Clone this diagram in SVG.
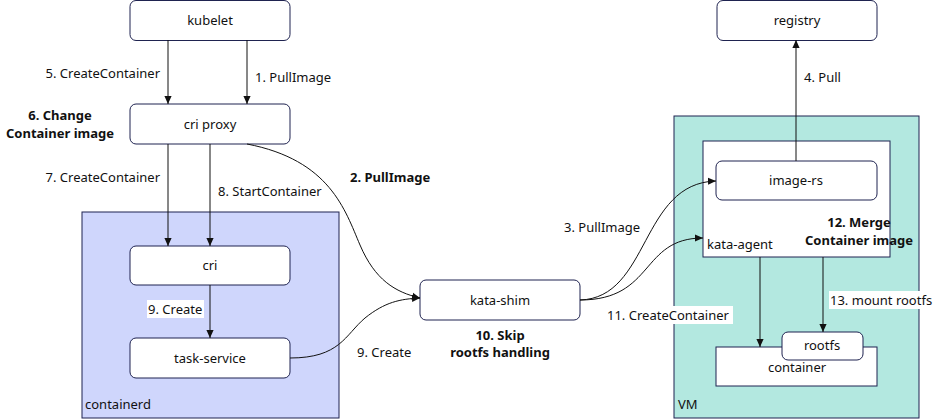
<svg xmlns="http://www.w3.org/2000/svg" width="940" height="420" viewBox="0 0 940 420">
<style>
text{font-family:"Noto Sans","Open Sans","DejaVu Sans",sans-serif;font-size:13px;fill:#111}
.b{font-weight:bold}
.c{text-anchor:middle}
.box{fill:#fff;stroke:#1f2350;stroke-width:1}
.ln{fill:none;stroke:#111;stroke-width:1}
.wb{fill:#fff}
</style>
<defs>
<marker id="ah" viewBox="0 0 10 10" refX="10" refY="5" markerWidth="8" markerHeight="8" markerUnits="userSpaceOnUse" orient="auto">
<path d="M0,0.5 L10,5 L0,9.5 Z" fill="#111"/>
</marker>
</defs>
<g id="containerd">
<rect x="82" y="212" width="257" height="206" fill="#cfd6fc" stroke="#1f2350"/>
<text x="85" y="409">containerd</text>
</g>
<g id="vm">
<rect x="674" y="116" width="245" height="302" fill="#b3e8e0" stroke="#1f2350"/>
<text x="678" y="409">VM</text>
</g>
<g id="kata-agent">
<rect x="703" y="141" width="187" height="116" class="box"/>
<text x="707" y="249">kata-agent</text>
</g>
<g id="kubelet">
<rect x="130" y="0.5" width="160" height="40" rx="6" class="box"/>
<text x="210" y="25" class="c">kubelet</text>
</g>
<g id="cri-proxy">
<rect x="130" y="104" width="160" height="40" rx="6" class="box"/>
<text x="210" y="129" class="c">cri proxy</text>
</g>
<g id="cri">
<rect x="130" y="246" width="160" height="39" rx="6" class="box"/>
<text x="210" y="270" class="c">cri</text>
</g>
<g id="task-service">
<rect x="130" y="338" width="160" height="40" rx="6" class="box"/>
<text x="210" y="363" class="c">task-service</text>
</g>
<g id="kata-shim">
<rect x="420" y="280" width="160" height="40" rx="6" class="box"/>
<text x="500" y="305" class="c">kata-shim</text>
</g>
<g id="registry">
<rect x="717" y="0.5" width="160" height="40" rx="6" class="box"/>
<text x="797" y="25" class="c">registry</text>
</g>
<g id="image-rs">
<rect x="716" y="161" width="161" height="39" rx="6" class="box"/>
<text x="796" y="185" class="c">image-rs</text>
</g>
<g id="container">
<rect x="716" y="347" width="161" height="39" class="box"/>
<text x="797" y="372" class="c">container</text>
</g>
<g id="rootfs">
<rect x="782" y="332" width="81" height="28" rx="6" class="box"/>
<text x="822" y="350" class="c">rootfs</text>
</g>
<g id="connectors">
<line x1="168" y1="40" x2="168" y2="104" class="ln" marker-end="url(#ah)"/>
<line x1="247" y1="40" x2="247" y2="104" class="ln" marker-end="url(#ah)"/>
<line x1="168" y1="144" x2="168" y2="246" class="ln" marker-end="url(#ah)"/>
<line x1="210" y1="144" x2="210" y2="246" class="ln" marker-end="url(#ah)"/>
<line x1="210" y1="285" x2="210" y2="338" class="ln" marker-end="url(#ah)"/>
<path d="M247,144 C330,160 345,210 360,245 C375,280 395,292 420,298" class="ln" marker-end="url(#ah)"/>
<path d="M290,358 C340,358 345,335 365,318 C385,302 400,299 420,298" class="ln" marker-end="url(#ah)"/>
<path d="M580,300 C650,298 640,183 716,181" class="ln" marker-end="url(#ah)"/>
<path d="M580,300 C655,300 640,238 703,238" class="ln" marker-end="url(#ah)"/>
<line x1="796" y1="161" x2="796" y2="40" class="ln" marker-end="url(#ah)"/>
<line x1="760" y1="257" x2="760" y2="347" class="ln" marker-end="url(#ah)"/>
<line x1="823" y1="257" x2="823" y2="332" class="ln" marker-end="url(#ah)"/>
</g>
<g id="labels">
<text x="160" y="78" text-anchor="end">5. CreateContainer</text>
<text x="255" y="82">1. PullImage</text>
<text x="60" y="120" class="b c">6. Change</text>
<text x="60" y="138" class="b c">Container image</text>
<text x="160" y="182" text-anchor="end">7. CreateContainer</text>
<text x="218" y="196">8. StartContainer</text>
<text x="350" y="182" class="b">2. PullImage</text>
<rect x="147" y="300" width="57" height="18" class="wb"/>
<text x="148" y="314">9. Create</text>
<text x="357" y="357">9. Create</text>
<text x="500" y="340" class="b c">10. Skip</text>
<text x="500" y="357" class="b c">rootfs handling</text>
<rect x="606" y="306" width="127" height="18" class="wb"/>
<text x="607" y="320">11. CreateContainer</text>
<text x="564" y="232">3. PullImage</text>
<text x="859" y="227" class="b c">12. Merge</text>
<text x="859" y="245" class="b c">Container image</text>
<rect x="829" y="291" width="106" height="18" class="wb"/>
<text x="830" y="305">13. mount rootfs</text>
<text x="804" y="82">4. Pull</text>
</g>
</svg>
